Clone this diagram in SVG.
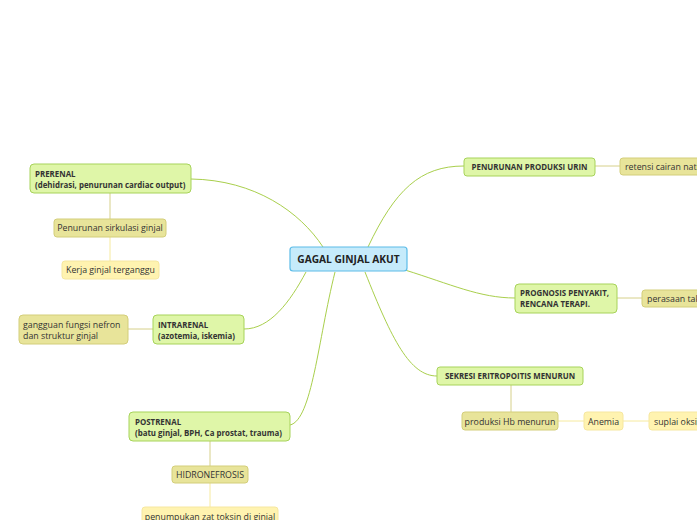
<svg xmlns="http://www.w3.org/2000/svg" width="697" height="520" viewBox="0 0 697 520">
<style>
.main rect{fill:#dff6a8;stroke:#a7d35a;stroke-width:1}
.sub1 rect{fill:#e8e49a;stroke:#d3ce7a;stroke-width:1}
.sub2 rect{fill:#fff3b0;stroke:#f6e7a0;stroke-width:1}
.center rect{fill:#c6ebfb;stroke:#5cbce8;stroke-width:1.2}
text{font-family:"Open Sans","Noto Sans","Liberation Sans",sans-serif;fill:#333}
.b{font-weight:bold;font-size:7.9px}
.r{font-size:8.8px}
.c{font-weight:bold;font-size:10.2px;fill:#222}
.lm{fill:none;stroke:#a9cf4c;stroke-width:1}
.l1{fill:none;stroke:#d6d08a;stroke-width:1}
.l2{fill:none;stroke:#f6ea9e;stroke-width:1}
</style>
<rect width="697" height="520" fill="#ffffff"/>
<g id="connectors">
<path class="lm" d="M323,247 C300,212 255,180 191,179"/>
<path class="lm" d="M306,272 C290,302 270,329 244,329"/>
<path class="lm" d="M335,272 C318,340 312,420 290,425"/>
<path class="lm" d="M365,272 C392,340 410,376 437,376"/>
<path class="lm" d="M405,270 C450,284 480,298 515,298"/>
<path class="lm" d="M368,247 C395,190 420,166 464,166"/>
<path class="l1" d="M110,193 V219"/>
<path class="l2" d="M110,237 V261"/>
<path class="l1" d="M128,329 H153"/>
<path class="l1" d="M210,441 V466"/>
<path class="l2" d="M210,483 V507"/>
<path class="l1" d="M595,166 H620"/>
<path class="l1" d="M617,298 H642"/>
<path class="l1" d="M511,385 V412"/>
<path class="l2" d="M558,421 H584"/>
<path class="l2" d="M623,421 H649"/>
</g>
<g id="center" class="center">
<rect x="290" y="247" width="117" height="24" rx="3"/>
<text class="c" x="348.5" y="263" text-anchor="middle">GAGAL GINJAL AKUT</text>
</g>
<g id="prerenal" class="main">
<rect x="30" y="164" width="161" height="29" rx="4"/>
<text class="b" x="35" y="177">PRERENAL</text>
<text class="b" x="35" y="188">(dehidrasi, penurunan cardiac output)</text>
</g>
<g id="penurunan-sirkulasi" class="sub1">
<rect x="54" y="219" width="112" height="18" rx="3"/>
<text class="r" x="110" y="231" text-anchor="middle">Penurunan sirkulasi ginjal</text>
</g>
<g id="kerja-ginjal" class="sub2">
<rect x="62" y="261" width="97" height="18" rx="3"/>
<text class="r" x="110.5" y="273" text-anchor="middle">Kerja ginjal terganggu</text>
</g>
<g id="intrarenal" class="main">
<rect x="153" y="315" width="91" height="29" rx="4"/>
<text class="b" x="158" y="328">INTRARENAL</text>
<text class="b" x="158" y="339">(azotemia, iskemia)</text>
</g>
<g id="gangguan" class="sub1">
<rect x="19" y="315" width="109" height="29" rx="4"/>
<text class="r" x="23" y="328">gangguan fungsi nefron</text>
<text class="r" x="23" y="339">dan struktur ginjal</text>
</g>
<g id="postrenal" class="main">
<rect x="129" y="412" width="161" height="29" rx="4"/>
<text class="b" x="135" y="425">POSTRENAL</text>
<text class="b" x="135" y="436">(batu ginjal, BPH, Ca prostat, trauma)</text>
</g>
<g id="hidronefrosis" class="sub1">
<rect x="172" y="466" width="76" height="17" rx="3"/>
<text class="r" x="210" y="478" text-anchor="middle">HIDRONEFROSIS</text>
</g>
<g id="penumpukan" class="sub2">
<rect x="142" y="507" width="136" height="20" rx="3"/>
<text class="r" x="210" y="520" text-anchor="middle">penumpukan zat toksin di ginjal</text>
</g>
<g id="penurunan-produksi" class="main">
<rect x="464" y="158" width="131" height="18" rx="3"/>
<text class="b" x="529.5" y="169.5" text-anchor="middle">PENURUNAN PRODUKSI URIN</text>
</g>
<g id="retensi" class="sub1">
<rect x="620" y="158" width="100" height="17" rx="3"/>
<text class="r" x="625" y="170">retensi cairan natrium</text>
</g>
<g id="prognosis" class="main">
<rect x="515" y="284" width="102" height="29" rx="4"/>
<text class="b" x="520" y="296">PROGNOSIS PENYAKIT,</text>
<text class="b" x="520" y="307">RENCANA TERAPI.</text>
</g>
<g id="perasaan" class="sub1">
<rect x="642" y="290" width="80" height="17" rx="3"/>
<text class="r" x="647" y="302">perasaan takut</text>
</g>
<g id="sekresi" class="main">
<rect x="437" y="367" width="146" height="18" rx="3"/>
<text class="b" x="510" y="379" text-anchor="middle">SEKRESI ERITROPOITIS MENURUN</text>
</g>
<g id="produksi-hb" class="sub1">
<rect x="462" y="412" width="96" height="18" rx="3"/>
<text class="r" x="510" y="424.5" text-anchor="middle">produksi Hb menurun</text>
</g>
<g id="anemia" class="sub2">
<rect x="584" y="412" width="39" height="18" rx="3"/>
<text class="r" x="603.5" y="424.5" text-anchor="middle">Anemia</text>
</g>
<g id="suplai" class="sub2">
<rect x="649" y="412" width="80" height="18" rx="3"/>
<text class="r" x="654" y="424.5">suplai oksigen</text>
</g>
</svg>
